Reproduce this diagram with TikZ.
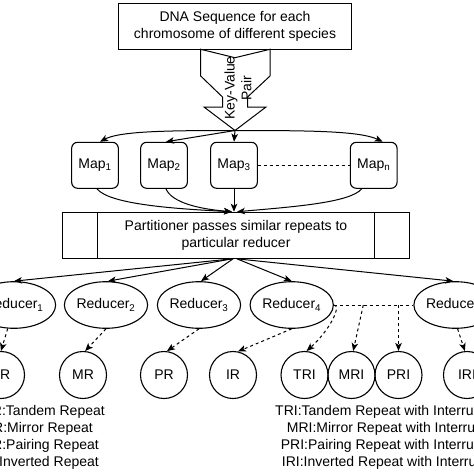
\documentclass[tikz,border=0pt]{standalone}
\usepackage{fontspec}
\setmainfont{Liberation Sans}
\usetikzlibrary{arrows.meta,shapes.geometric}
\begin{document}
\begin{tikzpicture}[x=1pt,y=-1pt,
  every node/.style={font=\fontsize{14}{16.8}\selectfont, inner sep=0pt},
  box/.style={draw, line width=1.1pt},
  mapbox/.style={draw, line width=1.1pt, rounded corners=6pt, minimum width=46.7pt, minimum height=46pt},
  redu/.style={draw, ellipse, line width=1.1pt, minimum width=71pt, minimum height=46.6pt},
  rep/.style={draw, circle, line width=1.1pt, minimum size=47pt},
  conn/.style={line width=1pt, -{Stealth[length=8pt,width=6.5pt,inset=2pt]}},
  dconn/.style={conn, dash pattern=on 3pt off 3pt},
  dline/.style={line width=1pt, dash pattern=on 3pt off 3pt}
]
\useasboundingbox (0,0) rectangle (474,474);

% top box
\node[box, minimum width=233.4pt, minimum height=46pt, align=center] (dna) at (235,26.3)
  {DNA Sequence for each\\chromosome of different species};

% block arrow
\draw[line width=1pt, fill=white] (200.7,49.3) -- (235,57.7) -- (270,49.3) -- (270,76) -- (247.5,97)
  -- (247.5,107) -- (266,107) -- (235,130.5) -- (204,107) -- (222.5,107) -- (222.5,97) -- (200.7,76) -- cycle;
\node[rotate=90, align=center] (kv) at (238,88) {Key-Value\\Pair};
\coordinate (tip) at (235,130.5);

% maps
\node[mapbox] (m1) at (95,165.3) {Map\textsubscript{1}};
\node[mapbox] (m2) at (164,165.3) {Map\textsubscript{2}};
\node[mapbox] (m3) at (234,165.3) {Map\textsubscript{3}};
\node[mapbox] (mn) at (373.7,165.3) {Map\textsubscript{n}};
\draw[dline] (m3.east) -- (mn.west);

\draw[conn] (tip) -- (m3.north);
\draw[conn] (tip) -- ([xshift=2pt]m2.north);
\draw[conn] (tip) .. controls (170,130.5) and (120,131) .. ([xshift=5pt]m1.north);
\draw[conn] (tip) .. controls (310,130.5) and (360,131) .. ([xshift=9pt]mn.north);

% partitioner
\node[box, minimum width=346.6pt, minimum height=46pt, align=center,
  font=\fontsize{14}{17.6}\selectfont] (part) at (236,235.3)
  {Partitioner passes similar repeats to\\particular reducer};
\draw[line width=1.1pt] ([xshift=35.6pt]part.north west) -- ([xshift=35.6pt]part.south west);
\draw[line width=1.1pt] ([xshift=-35.3pt]part.north east) -- ([xshift=-35.3pt]part.south east);

\draw[conn] ([xshift=2pt]m1.south) .. controls (110,205) and (180,209) .. ([xshift=-4pt]part.north);
\draw[conn] ([xshift=2pt]m2.south) .. controls (172,203) and (200,209) .. ([xshift=-4pt]part.north);
\draw[conn] (m3.south) -- ([xshift=-2pt]part.north);
\draw[conn] ([xshift=-12pt]mn.south) .. controls (350,203) and (290,207) .. ([xshift=1pt]part.north);

% reducers
\node[redu] (r1) at (14,305) {Reducer\textsubscript{1}};
\node[redu] (r2) at (106,305) {Reducer\textsubscript{2}};
\node[redu] (r3) at (199,305) {Reducer\textsubscript{3}};
\node[redu] (r4) at (291.7,305) {Reducer\textsubscript{4}};
\node[redu] (r5) at (455.5,305) {Reducer\textsubscript{5}};

\draw[conn] ([xshift=-4pt]part.south) -- (r1.north);
\draw[conn] ([xshift=-4pt]part.south) -- ([xshift=2pt]r2.north);
\draw[conn] ([xshift=-3pt]part.south) -- ([xshift=2pt]r3.north);
\draw[conn] ([xshift=1pt]part.south) -- (r4.north);
\draw[conn] ([xshift=1pt]part.south) -- (r5.95);

% repeats
\node[rep] (tr) at (1,375) {TR};
\node[rep] (mr) at (83,375) {MR};
\node[rep] (pr) at (164,375) {PR};
\node[rep] (ir) at (233,375) {IR};
\node[rep] (tri) at (304.5,375) {TRI};
\node[rep] (mri) at (351.5,375) {MRI};
\node[rep] (pri) at (398.5,375) {PRI};
\node[rep] (iri) at (467,375) {IRI};

\draw[dconn] (r1.-105) -- (tr.north);
\draw[dconn] (r2.south) -- (mr.85);
\draw[dconn] (r3.south) -- (pr.83);
\draw[dconn] (r4.south) -- (ir.78);
\draw[dline] (r4.east) -- (r5.west);
\draw[dconn] (r4.east) .. controls (342,305) and (330,330) .. (tri.85);
\coordinate (j1) at (363.3,305);
\coordinate (j2) at (398.5,305);
\draw[dconn] (j1) -- (mri.86);
\draw[dconn] (j2) -- (pri.north);
\draw[dconn] (r5.-85) -- (iri.95);

% legends
\node[anchor=base east] (la) at (105,415) {TR:Tandem Repeat};
\node[anchor=base east] (lb) at (93,432.3) {MR:Mirror Repeat};
\node[anchor=base east] (lc) at (99,449.3) {PR:Pairing Repeat};
\node[anchor=base east] (ld) at (99,466) {IR:Inverted Repeat};

\node[anchor=base west] (ra) at (275,415) {TRI:Tandem Repeat with Interruption};
\node[anchor=base west] (rb) at (286.7,432.3) {MRI:Mirror Repeat with Interruption};
\node[anchor=base west] (rc) at (280.7,449.3) {PRI:Pairing Repeat with Interruption};
\node[anchor=base west] (rd) at (281.7,466) {IRI:Inverted Repeat with Interruption};
\end{tikzpicture}
\end{document}
